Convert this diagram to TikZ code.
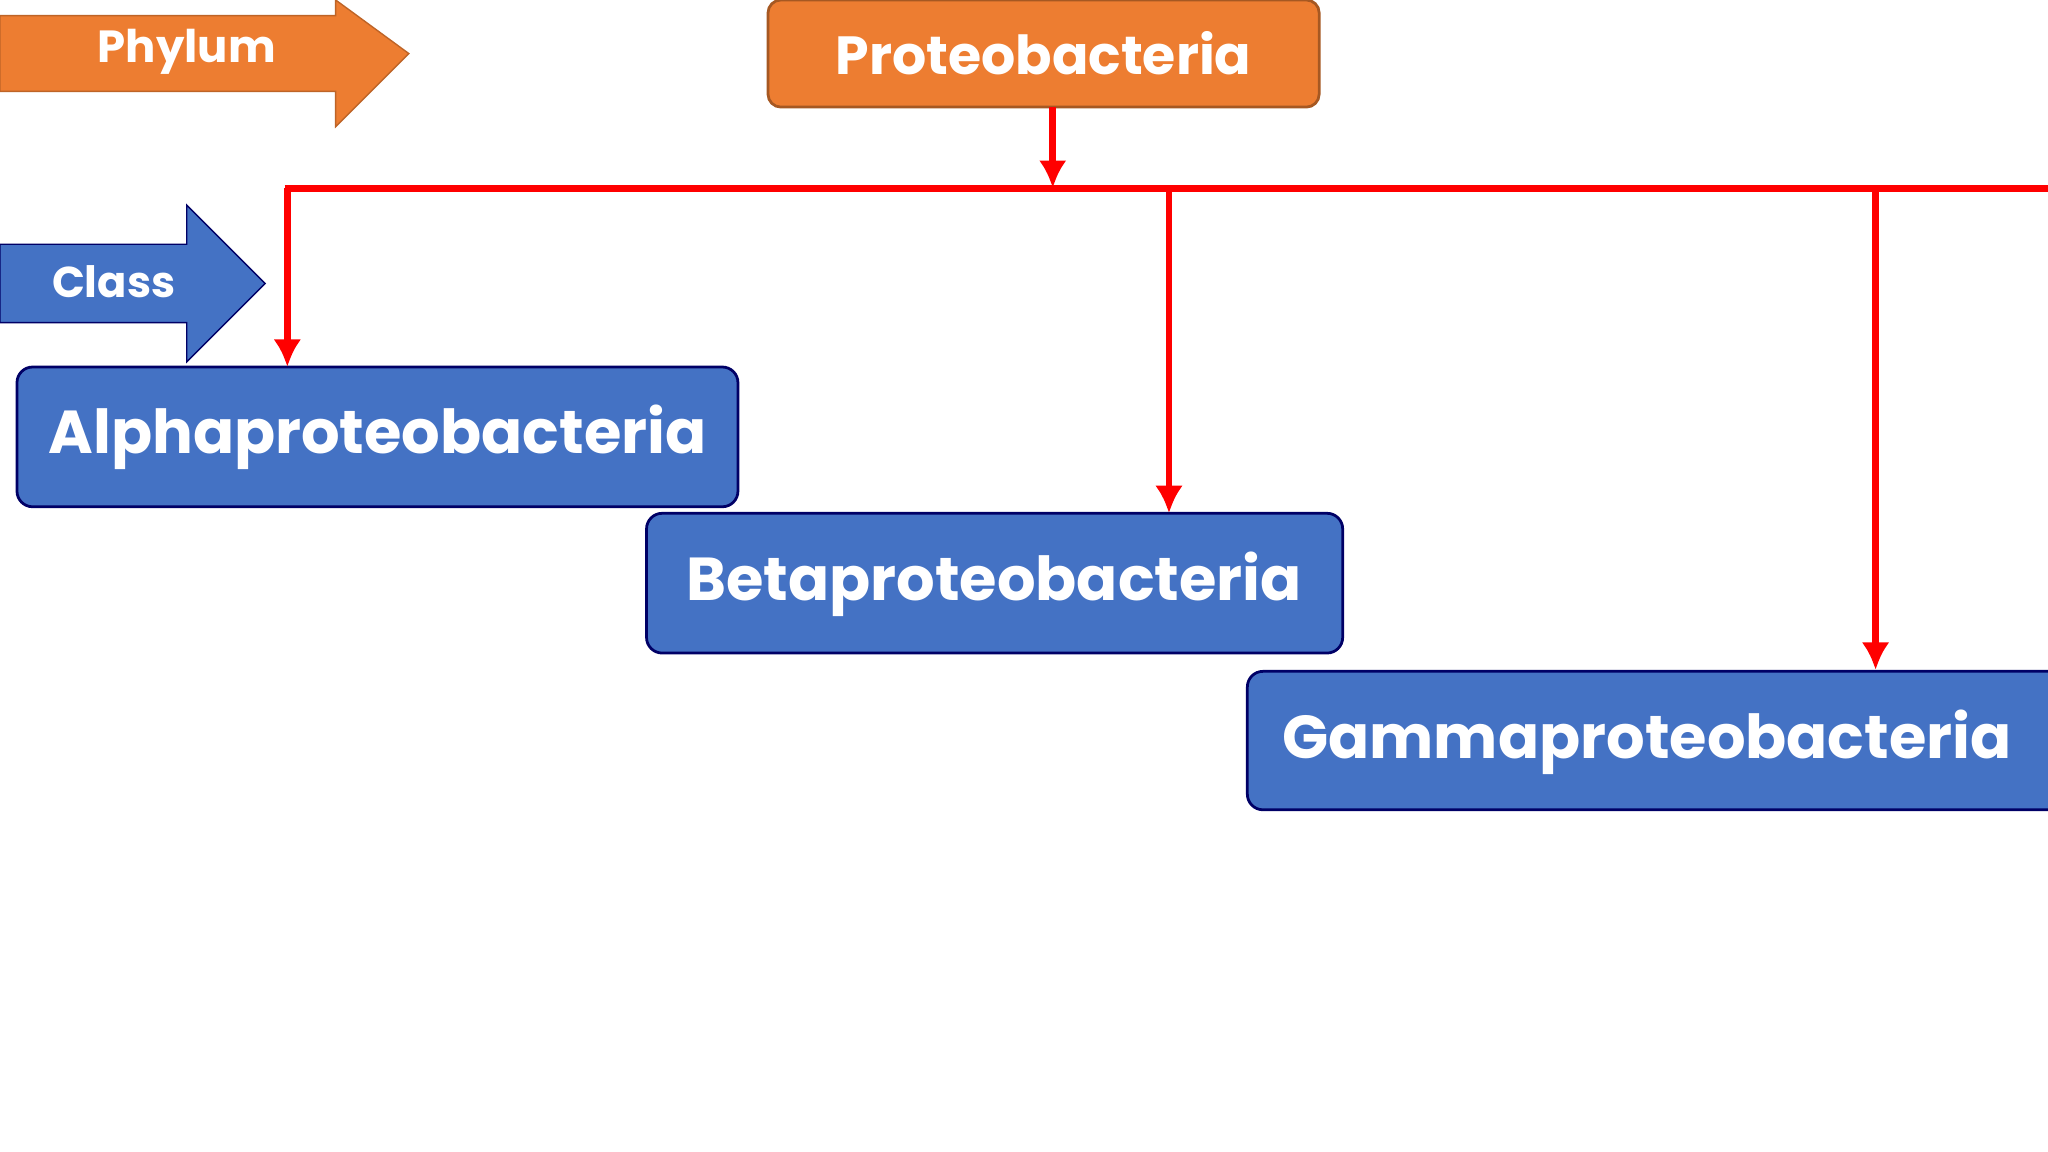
\documentclass[tikz,border=0pt]{standalone}
\usepackage{fontspec}
\setmainfont{Poppins}
\usetikzlibrary{arrows.meta}
\begin{document}
\begin{tikzpicture}[x=0.01cm,y=-0.01cm,
  cls/.style={draw=blue!40!black,fill=blue1,rounded corners=3.4pt,line width=0.6pt},
  lbl/.style={text=white,font=\bfseries},
  red/.style={draw=red,line width=1.5pt},
  arr/.style={red,-{Latex[length=6pt,width=6pt]}}]
\definecolor{blue1}{HTML}{4472C4}
\definecolor{org}{HTML}{ED7D31}
\useasboundingbox (0,0) rectangle (1568,882);
\fill[white] (0,0) rectangle (1568,882);
% Phylum arrow
\filldraw[fill=org,draw=org!80!black,line width=0.3pt] (0,12) -- (257,12) -- (257,0) -- (313,41) -- (257,97) -- (257,70) -- (0,70) -- cycle;
\node[lbl,font=\bfseries\fontsize{9.8}{11}\selectfont] (phy) at (143,40) {Phylum};
% Class arrow
\filldraw[fill=blue1,draw=blue!40!black,line width=0.3pt] (0,187) -- (143,187) -- (143,157) -- (203,217) -- (143,277) -- (143,247) -- (0,247) -- cycle;
\node[lbl,font=\bfseries\fontsize{9.4}{11}\selectfont] (cl) at (87,216) {Class};
% Proteobacteria
\filldraw[fill=org,draw=org!70!black,rounded corners=2.8pt,line width=0.6pt] (588,0) rectangle (1010,82);
\node[lbl,font=\bfseries\fontsize{11.7}{13}\selectfont] (pro) at (799,41) {Proteobacteria};
\coordinate (pb) at (806,82);
% class boxes
\draw[cls] (13,281) rectangle (565,388);
\node[lbl,font=\bfseries\fontsize{13.2}{15}\selectfont] (al) at (289,335) {Alphaproteobacteria};
\draw[cls] (495,393) rectangle (1028,500);
\node[lbl,font=\bfseries\fontsize{13.2}{15}\selectfont] (be) at (761,447) {Betaproteobacteria};
\draw[cls] (955,514) rectangle (1580,620);
\node[lbl,font=\bfseries\fontsize{13.2}{15}\selectfont] (ga) at (1261,568) {Gammaproteobacteria};
% connectors
\coordinate (h0) at (218,144);
\coordinate (h1) at (1568,144);
\coordinate (hm) at (806,144);
\coordinate (ta) at (220,281);
\coordinate (tb) at (895,393);
\coordinate (tg) at (1436,513);
\draw[red] (h0) -- (h1);
\draw[arr] (pb) -- (hm);
\draw[arr] (220,144) -- (ta);
\draw[arr] (895,142) -- (tb);
\draw[arr] (1436,142) -- (tg);
\end{tikzpicture}
\end{document}
